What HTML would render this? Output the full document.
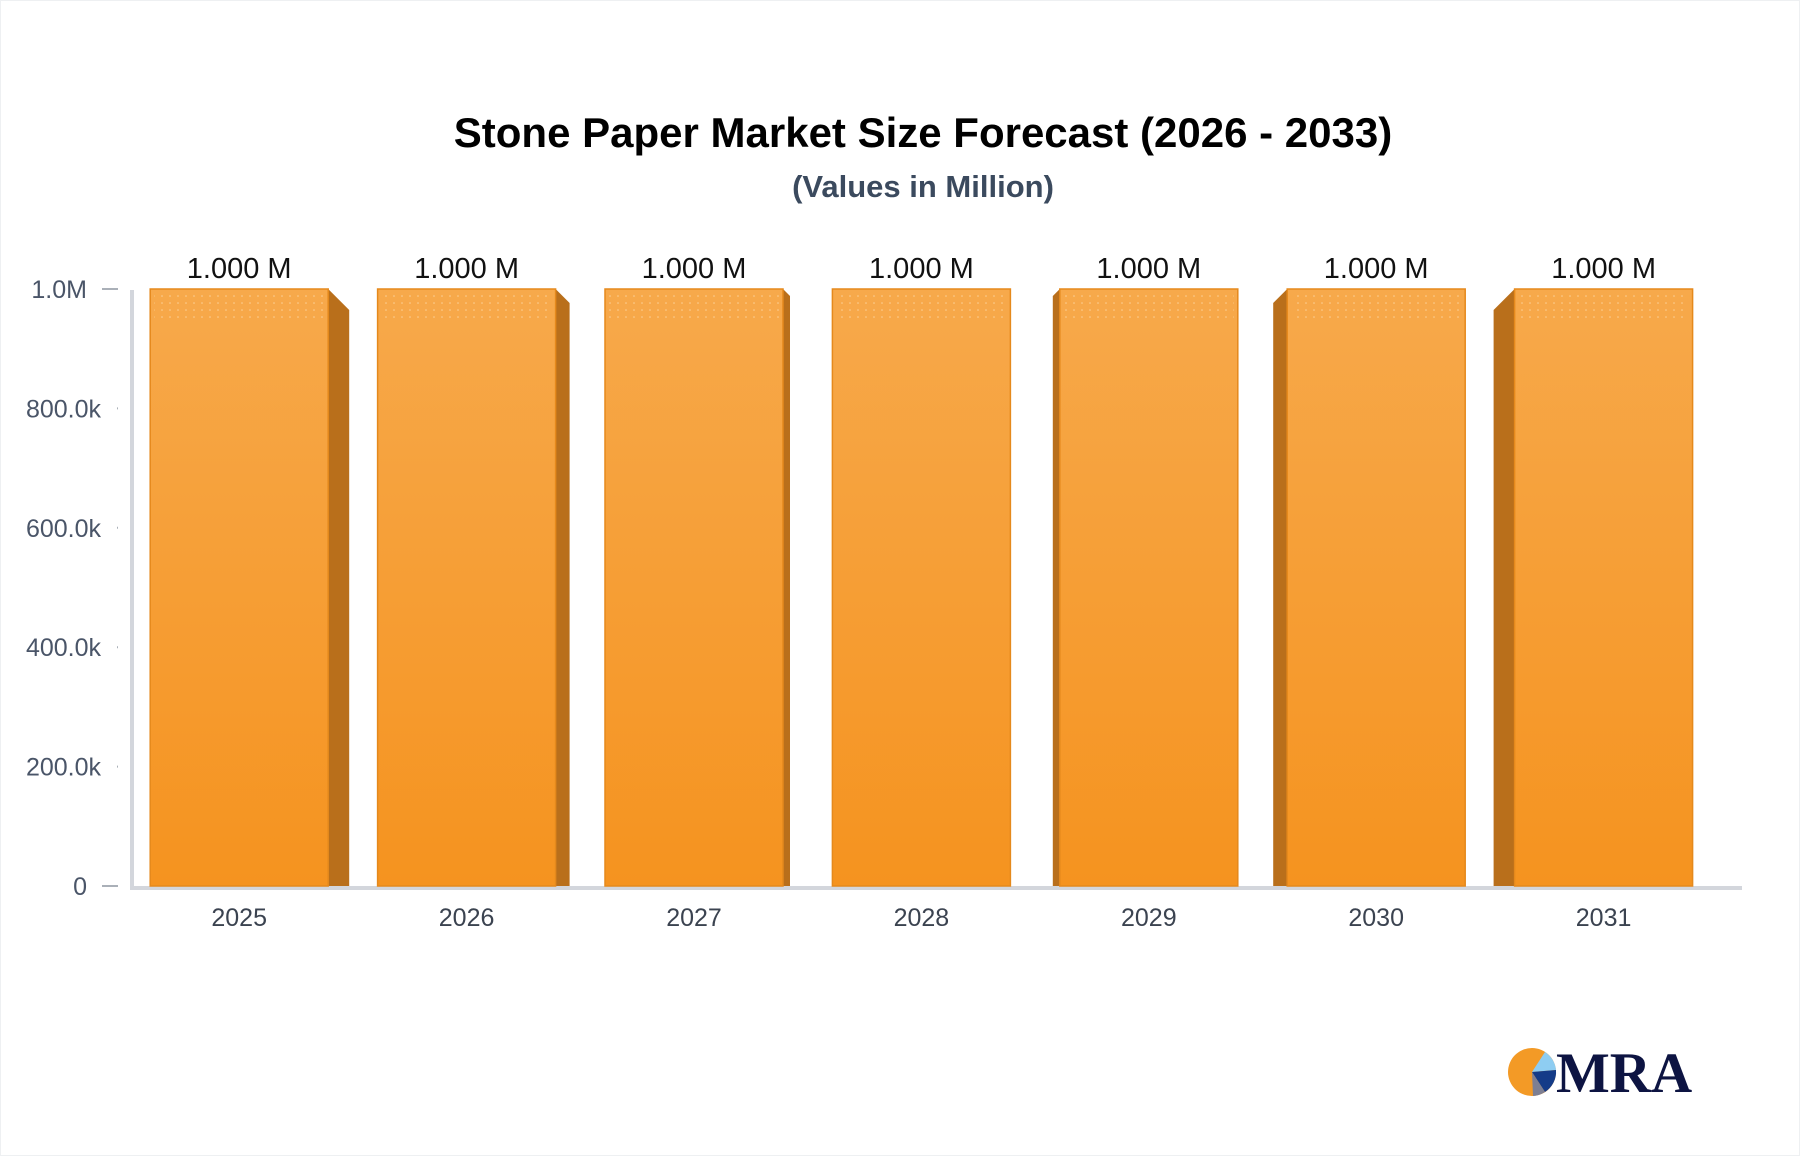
<!DOCTYPE html>
<html><head><meta charset="utf-8"><style>
html,body{margin:0;padding:0;background:#fff}
body{width:1800px;height:1156px;overflow:hidden;font-family:"Liberation Sans",sans-serif}
</style></head><body>
<svg id="chart" width="1800" height="1156" viewBox="0 0 1800 1156" xmlns="http://www.w3.org/2000/svg">
<defs>
<linearGradient id="fg" x1="0" y1="0" x2="0" y2="1"><stop offset="0" stop-color="#f7a94b"/><stop offset="1" stop-color="#f5931f"/></linearGradient>
<pattern id="dots" width="8" height="7" patternUnits="userSpaceOnUse"><circle cx="2" cy="2" r="0.8" fill="#fcd9a8"/></pattern>
</defs>
<rect x="0.5" y="0.5" width="1799" height="1155" fill="#fff" stroke="#eef0f2"/>
<text x="923" y="147" text-anchor="middle" font-size="42" font-weight="bold" fill="#000">Stone Paper Market Size Forecast (2026 - 2033)</text>
<text x="923" y="197" text-anchor="middle" font-size="31" font-weight="bold" fill="#3b4a5e">(Values in Million)</text>
<g id="axes"></g>
<g id="bars"></g>
<g>
<circle cx="1532" cy="1072" r="24" fill="#f39a26"/>
<path d="M1532,1072 L1545,1052 A24,24 0 0 1 1556,1070 Z" fill="#8ecdf2"/>
<path d="M1532,1072 L1556,1070 A24,24 0 0 1 1545,1092 Z" fill="#143b88"/>
<path d="M1532,1072 L1545,1092 A24,24 0 0 1 1533,1096 Z" fill="#7d7f93"/>
<text x="1556" y="1092" font-family="'Liberation Serif',serif" font-size="57" font-weight="bold" fill="#0d1442">MRA</text>
</g>
</svg>
<script>
const categories = ["2025","2026","2027","2028","2029","2030","2031"];
const values = [1000000,1000000,1000000,1000000,1000000,1000000,1000000];
const valueLabels = ["1.000 M","1.000 M","1.000 M","1.000 M","1.000 M","1.000 M","1.000 M"];
const tickValues = [0,200000,400000,600000,800000,1000000];
const tickLabels = ["0","200.0k","400.0k","600.0k","800.0k","1.0M"];

const NS="http://www.w3.org/2000/svg";
const y0=886, y1=289, yMax=1000000;
const xStart=125.5, step=227.4, barW=178;
const yScale=v=>y0-(v/yMax)*(y0-y1);
const xCenter=i=>xStart+step*(i+0.5);
function mk(tag,attrs,parent){const e=document.createElementNS(NS,tag);for(const k in attrs)e.setAttribute(k,attrs[k]);parent.appendChild(e);return e;}
const axes=document.getElementById('axes'), bars=document.getElementById('bars');

tickValues.forEach((t,i)=>{
  const y=yScale(t);
  const big=(i===0||i===tickValues.length-1);
  const lab=mk('text',{x:big?87:101,y:y+9,'text-anchor':'end','font-size':25,fill:'#4a5568'},axes);
  lab.textContent=tickLabels[i];
  
  
  const tk=mk('line',{x1:big?102:117,x2:118,y1:y,y2:y,stroke:'#aab0b8','stroke-width':2},axes);
  
  
});
const ya=mk('line',{x1:132,x2:132,y1:290,y2:888,stroke:'#d3d6dc','stroke-width':4},axes);


const xa=mk('line',{x1:130,x2:1742,y1:888,y2:888,stroke:'#d3d6dc','stroke-width':4},axes);



const mid=(categories.length-1)/2;
categories.forEach((c,i)=>{
  const cx=xCenter(i), x=cx-barW/2, yt=yScale(values[i]), h=y0-yt;
  const d=(mid-i)*7; // side depth: positive -> right side
  const g=mk('g',{},bars);
  
  
  if(d<0){
    const w=-d;
    mk('polygon',{points:`${x},${yt} ${x-w},${yt+w} ${x-w},${y0} ${x},${y0}`,fill:'#b96f1b'},g);
  } else if(d>0){
    const w=d;
    mk('polygon',{points:`${x+barW},${yt} ${x+barW+w},${yt+w} ${x+barW+w},${y0} ${x+barW},${y0}`,fill:'#b96f1b'},g);
  }
  mk('rect',{x:x,y:yt,width:barW,height:h,fill:'url(#fg)',stroke:'#e5891c','stroke-width':1.5},g);
  mk('rect',{x:x+4,y:yt+6,width:barW-8,height:28,fill:'url(#dots)',opacity:0.8},g);
  const vl=mk('text',{x:cx,y:yt-11,'text-anchor':'middle','font-size':29,fill:'#111'},bars);
  vl.textContent=valueLabels[i];
  
  
  const xl=mk('text',{x:cx,y:926,'text-anchor':'middle','font-size':25,fill:'#3b4350'},bars);
  xl.textContent=c;
  
  
});
</script>
</body></html>
